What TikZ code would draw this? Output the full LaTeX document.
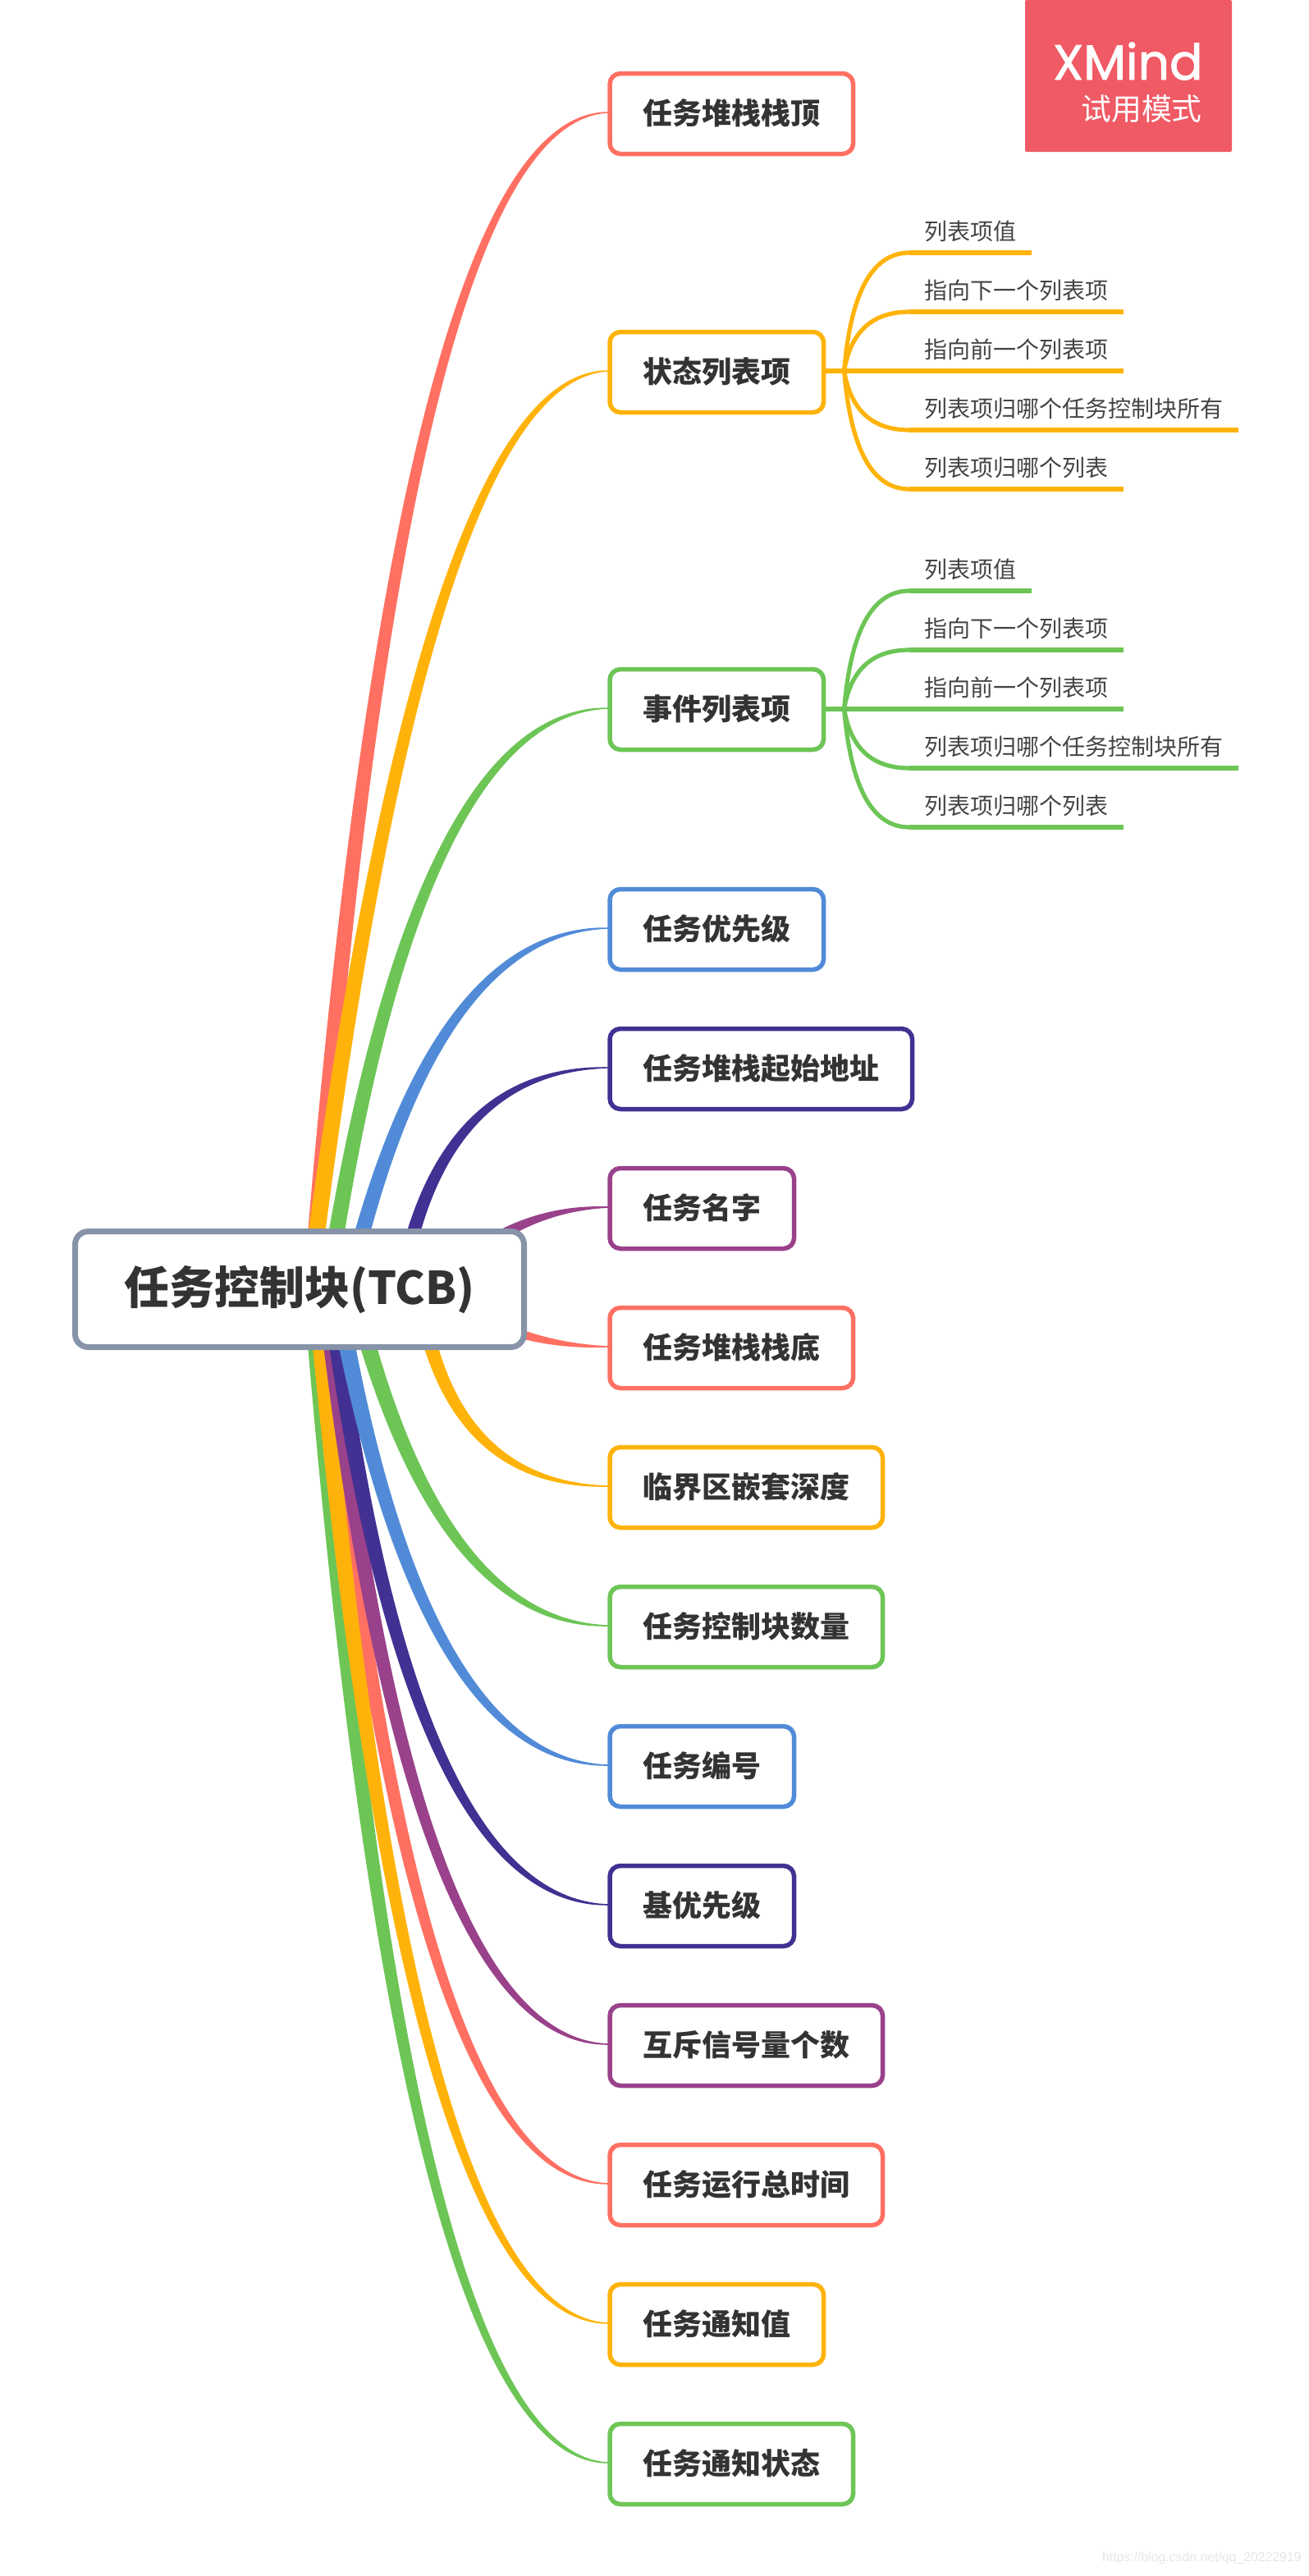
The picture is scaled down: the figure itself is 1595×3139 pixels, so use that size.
\documentclass[tikz,border=0pt]{standalone}
\usepackage{fontspec}
\setmainfont{Noto Sans CJK SC}
\newfontfamily\logofont[FakeBold=1.6]{Poppins}
\newfontfamily\wmfont{Liberation Sans}
\usetikzlibrary{calc,backgrounds}
\definecolor{cred}{HTML}{FF7062}
\definecolor{corange}{HTML}{FFB30A}
\definecolor{cgreen}{HTML}{6DC556}
\definecolor{cblue}{HTML}{518BD8}
\definecolor{cpurple}{HTML}{423092}
\definecolor{cmagenta}{HTML}{99418A}
\definecolor{croot}{HTML}{8793A8}
\definecolor{ctext}{HTML}{333333}
\definecolor{cleaf}{HTML}{444444}
\definecolor{clogo}{HTML}{F05A65}
\definecolor{cmark}{HTML}{E6E6E6}
\tikzset{
  topic/.style={draw=#1,fill=white,line width=2.75pt,rounded corners=6.5pt,outer sep=0pt,
    inner sep=0pt,anchor=west,minimum height=49pt,text=ctext,
    font=\fontsize{18}{22}\selectfont\bfseries,text height=15pt,text depth=2.2pt},
  rootbox/.style={draw=croot,fill=white,line width=3.5pt,rounded corners=8pt,outer sep=0pt,
    inner sep=0pt,minimum width=273.5pt,minimum height=70.5pt,text=ctext,
    font=\fontsize{27.5}{34}\selectfont\bfseries},
  leaf/.style={anchor=south west,inner xsep=9pt,inner ysep=0pt,minimum height=27pt,text=cleaf,
    font=\fontsize{14}{17}\selectfont,text height=13.2pt,text depth=1.7pt},
  twig/.style={line width=3pt,draw=#1},
  twigcurve/.style={line width=2.6pt,draw=#1}
}
% tapered connector: colour, target node, x0, cx, connector y at target, start width (all px)
\newcommand{\taper}[6]{%
  \pgfmathsetmacro{\qux}{(#4-#3)/100}%
  \pgfmathsetmacro{\quy}{(#5-1571)/100}%
  \pgfmathsetmacro{\qlen}{veclen(\qux,\quy)}%
  \pgfmathsetmacro{\qnx}{-\quy/\qlen}%
  \pgfmathsetmacro{\qny}{\qux/\qlen}%
  \pgfmathsetmacro{\qden}{1+\qny}%
  \pgfmathsetmacro{\qmx}{\qnx/\qden}%
  \pgfmathsetmacro{\qmy}{(\qny+1)/\qden}%
  \pgfmathsetmacro{\qhz}{#6/2}%
  \pgfmathsetmacro{\qhe}{0.7}%
  \pgfmathsetmacro{\qhc}{(\qhz+\qhe)/2*1.1}%
  \pgfmathsetmacro{\qax}{#3+\qhz*\qnx-365}%
  \pgfmathsetmacro{\qay}{\qhz*\qny}%
  \pgfmathsetmacro{\qbx}{#3-\qhz*\qnx-365}%
  \pgfmathsetmacro{\qby}{-\qhz*\qny}%
  \pgfmathsetmacro{\qcax}{#4+\qhc*\qmx}%
  \pgfmathsetmacro{\qcay}{#5+\qhc*\qmy}%
  \pgfmathsetmacro{\qcbx}{#4-\qhc*\qmx}%
  \pgfmathsetmacro{\qcby}{#5-\qhc*\qmy}%
  \pgfmathsetmacro{\qaox}{\qax+365+(\qcax-\qax-365)*2/3}%
  \pgfmathsetmacro{\qaoy}{1571+\qay+(\qcay-1571-\qay)*2/3}%
  \pgfmathsetmacro{\qatx}{743+(\qcax-743)*2/3}%
  \pgfmathsetmacro{\qaty}{#5+\qhe+(\qcay-#5-\qhe)*2/3}%
  \pgfmathsetmacro{\qbox}{\qbx+365+(\qcbx-\qbx-365)*2/3}%
  \pgfmathsetmacro{\qboy}{1571+\qby+(\qcby-1571-\qby)*2/3}%
  \pgfmathsetmacro{\qbtx}{743+(\qcbx-743)*2/3}%
  \pgfmathsetmacro{\qbty}{#5-\qhe+(\qcby-#5+\qhe)*2/3}%
  \pgfmathsetmacro{\qeu}{\qhe-1.5}%
  \pgfmathsetmacro{\qed}{-\qhe-1.5}%
  \fill[#1] ($(root.center)+(\qax,\qay)$) .. controls (\qaox,\qaoy) and (\qatx,\qaty) .. ($(#2.west)+(0,\qeu)$)
    -- ($(#2.west)+(0,\qed)$) .. controls (\qbtx,\qbty) and (\qbox,\qboy) .. ($(root.center)+(\qbx,\qby)$) -- cycle;%
}
% leaf with its curved twig: name, colour, junction, y, control dy, text
\newcommand{\leafcurve}[6]{%
  \node[leaf] (#1) at (1108,#4) {#6};%
  \draw[twigcurve=#2] (#3) .. controls +(8,#5) and +(-45,0) .. (#1.south west);%
  \draw[twig=#2] (#1.south west) -- (#1.south east);%
}
\begin{document}
\begin{tikzpicture}[x=0.5pt,y=-0.5pt]
\useasboundingbox (0,0) rectangle (1595,3139);
% logo
\node[fill=clogo,rounded corners=1pt,minimum width=126pt,minimum height=92.5pt,inner sep=0pt,outer sep=0pt,anchor=north west] (logo) at (1249,0) {};
\node[anchor=base east,inner sep=0pt,text=white,font=\logofont\fontsize{30}{32}\selectfont] (logoa) at (1466,97) {XMind};
\node[anchor=base east,inner sep=0pt,text=white,font=\fontsize{18.4}{22}\selectfont] (logob) at (1465,146) {试用模式};
% root
\node[rootbox] (root) at (365,1571) {\raisebox{-1pt}{任务控制块(TCB)}};
% topics
\node[topic=cred,minimum width=148.3pt] (n1) at (743,138.5) {任务堆栈栈顶};
\node[topic=corange,minimum width=130.3pt] (n2) at (743,453.5) {状态列表项};
\node[topic=cgreen,minimum width=130.3pt] (n3) at (743,864.5) {事件列表项};
\node[topic=cblue,minimum width=130.3pt] (n4) at (743,1132.5) {任务优先级};
\node[topic=cpurple,minimum width=184.3pt] (n5) at (743,1302.5) {任务堆栈起始地址};
\node[topic=cmagenta,minimum width=112.3pt] (n6) at (743,1472.5) {任务名字};
\node[topic=cred,minimum width=148.3pt] (n7) at (743,1642.5) {任务堆栈栈底};
\node[topic=corange,minimum width=166.3pt] (n8) at (743,1812.5) {临界区嵌套深度};
\node[topic=cgreen,minimum width=166.3pt] (n9) at (743,1982.5) {任务控制块数量};
\node[topic=cblue,minimum width=112.3pt] (n10) at (743,2152.5) {任务编号};
\node[topic=cpurple,minimum width=112.3pt] (n11) at (743,2322.5) {基优先级};
\node[topic=cmagenta,minimum width=166.3pt] (n12) at (743,2492.5) {互斥信号量个数};
\node[topic=cred,minimum width=166.3pt] (n13) at (743,2662.5) {任务运行总时间};
\node[topic=corange,minimum width=130.3pt] (n14) at (743,2832.5) {任务通知值};
\node[topic=cgreen,minimum width=148.3pt] (n15) at (743,3002.5) {任务通知状态};
% connectors behind the boxes
\begin{scope}[on background layer]
\taper{cgreen}{n15}{380}{490}{3001}{21}
\taper{cred}{n13}{392}{497}{2661}{21}
\taper{corange}{n14}{385}{495}{2831}{21}
\taper{cmagenta}{n12}{396.5}{497}{2491}{21}
\taper{cpurple}{n11}{402}{497}{2321}{21}
\taper{cblue}{n10}{410}{511}{2151}{21}
\taper{cgreen}{n9}{430}{531.5}{1981}{21}
\taper{corange}{n8}{510}{545}{1811}{19}
\taper{cred}{n7}{530}{620}{1641}{20}
\taper{cred}{n1}{380}{490}{137}{21}
\taper{corange}{n2}{377}{519}{452}{21}
\taper{cgreen}{n3}{399}{507}{863}{20}
\taper{cblue}{n4}{424}{527}{1131}{20}
\taper{cpurple}{n5}{488}{534.5}{1301}{18}
\taper{cmagenta}{n6}{530}{620}{1471}{20}
\end{scope}
% status list item
\coordinate (ja) at ($(n2.east)+(25,-1.5)$);
\leafcurve{a1}{corange}{ja}{308}{-96}{列表项值}
\leafcurve{a2}{corange}{ja}{380}{-48}{指向下一个列表项}
\node[leaf] (a3) at (1108,452) {指向前一个列表项};
\draw[twig=corange] (n2.east |- ja) -- (ja) -- (a3.south west) -- (a3.south east);
\leafcurve{a4}{corange}{ja}{524}{48}{列表项归哪个任务控制块所有}
\leafcurve{a5}{corange}{ja}{596}{96}{列表项归哪个列表}
% event list item
\coordinate (jb) at ($(n3.east)+(25,-0.5)$);
\leafcurve{b1}{cgreen}{jb}{720}{-96}{列表项值}
\leafcurve{b2}{cgreen}{jb}{792}{-48}{指向下一个列表项}
\node[leaf] (b3) at (1108,864) {指向前一个列表项};
\draw[twig=cgreen] (n3.east |- jb) -- (jb) -- (b3.south west) -- (b3.south east);
\leafcurve{b4}{cgreen}{jb}{936}{48}{列表项归哪个任务控制块所有}
\leafcurve{b5}{cgreen}{jb}{1008}{96}{列表项归哪个列表}
% watermark
\node[anchor=east,inner sep=0pt,text=cmark,font=\wmfont\fontsize{7.9}{9}\selectfont] (mark) at (1586,3117) {https://blog.csdn.net/qq\_20222919};
\end{tikzpicture}
\end{document}
